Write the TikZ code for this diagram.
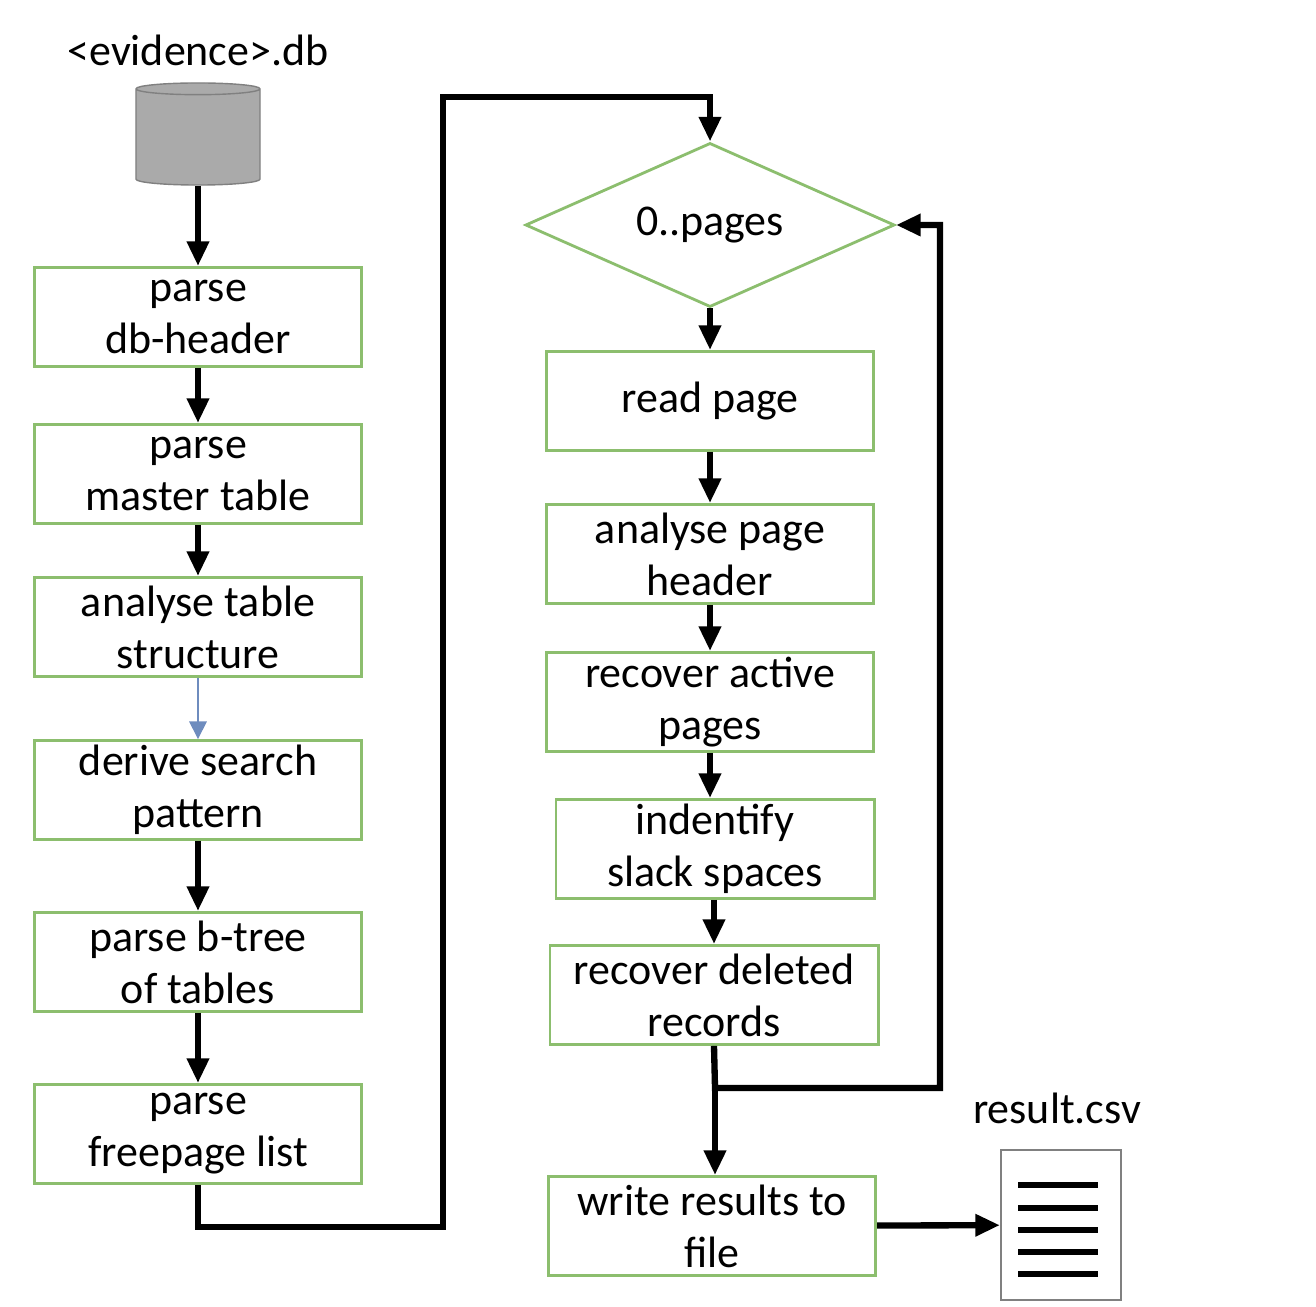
\documentclass[tikz,border=0pt]{standalone}
\usepackage{fontspec}
\setmainfont{Carlito}
\usetikzlibrary{positioning,calc,shapes.geometric,arrows.meta}
\definecolor{boxgreen}{RGB}{140, 190, 110}
\definecolor{cylgray}{RGB}{170, 170, 170}
\definecolor{thinblue}{RGB}{110, 140, 190}

\begin{document}
\begin{tikzpicture}[x=0.01cm,y=-0.01cm,
    procbox/.style={draw=boxgreen,line width=0.8pt,minimum width=3.27cm,minimum height=0.99cm,align=center,font=\fontsize{12.5}{14.8}\selectfont,inner sep=0pt},
    flow/.style={-{Triangle[length=7pt,width=6pt]},line width=1.8pt,black}]
        \useasboundingbox (0,0) rectangle (1316,1307);

        % Left column
        \node (evlabel) at (198,50) {\fontsize{12.5}{14}\selectfont <evidence>.db};
        \node[cylinder,shape border rotate=90,draw=gray,fill=cylgray,aspect=0.5,minimum width=1.24cm,minimum height=1.02cm] (db) at (198,139) {};
        \node[procbox] (header) at (198,317) {parse\\db-header};
        \node[procbox] (master) at (198,474) {parse\\master table};
        \node[procbox] (struct) at (198,627) {analyse table\\structure};
        \node[procbox] (pattern) at (198,790) {derive search\\pattern};
        \node[procbox] (btree) at (198,962) {parse b-tree\\of tables};
        \node[procbox] (freelist) at (198,1134) {parse\\freepage list};

        \draw[flow] (db) -- (header);
        \draw[flow] (header) -- (master);
        \draw[flow] (master) -- (struct);
        \draw[-{Triangle[length=5pt,width=5pt]},thinblue,line width=0.4pt] (struct) -- (pattern);
        \draw[flow] (pattern) -- (btree);
        \draw[flow] (btree) -- (freelist);

        % Right column
        \node[diamond,draw=boxgreen,line width=0.8pt,minimum width=3.69cm,minimum height=1.64cm,inner sep=0pt,aspect=2.25,font=\fontsize{12.5}{14}\selectfont] (pages) at (710,225) {0..pages};
        \node[procbox] (read) at (710,401) {read page};
        \node[procbox] (analyse) at (710,554) {analyse page\\header};
        \node[procbox] (active) at (710,702) {recover active\\pages};
        \node[procbox,minimum width=3.18cm] (slack) at (715,849) {indentify\\slack spaces};
        \node[procbox,minimum width=3.28cm] (deleted) at (714,995) {recover deleted\\records};
        \node[procbox] (write) at (712,1226) {write results to\\file};

        \coordinate (split) at (715,1088);
        \draw[flow] (freelist.south) |- (443,1227) |- (710,97) -- (pages.north);
        \draw[flow] (pages) -- (read);
        \draw[flow] (read) -- (analyse);
        \draw[flow] (analyse) -- (active);
        \draw[flow] (active) -- (active.south |- slack.north);
        \draw[flow] (slack.south -| deleted) -- (deleted);
        \draw[flow] (deleted.south) -- (split) -| (940,225) -- (pages.east);
        \draw[flow] (split) -- (split |- write.north);

        % Result file
        \node (csvlabel) at (1057,1108) {\fontsize{12.5}{14}\selectfont result.csv};
        \node[draw=gray,line width=0.6pt,minimum width=1.2cm,minimum height=1.5cm,inner sep=0pt] (csv) at (1061,1225) {};
        \foreach \y in {1185,1208,1230,1252,1274}
            \draw[line width=1.8pt] (1018,\y) -- (1098,\y);
        \draw[flow] (write) -- (csv);
\end{tikzpicture}
\end{document}
